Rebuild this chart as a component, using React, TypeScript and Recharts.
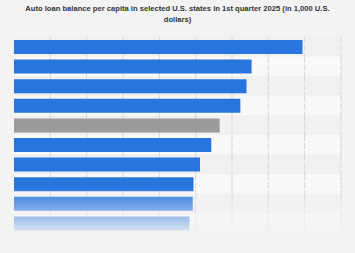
import { Bar, BarChart, Cell, ReferenceArea, XAxis, YAxis } from "recharts";

// Per-capita auto loan balance, Q1 2025, in 1,000 U.S. dollars
const states = [
  "Texas",
  "Louisiana",
  "Oklahoma",
  "Georgia",
  "U.S.",
  "Florida",
  "Arizona",
  "Michigan",
  "Ohio",
  "California",
];
const balances = [7.94, 6.54, 6.4, 6.23, 5.66, 5.43, 5.12, 4.94, 4.92, 4.83];
const xTicks = [0, 1, 2, 3, 4, 5, 6, 7, 8, 9];
const X_MAX = 9;

const BLUE = "#2876dd";
const GREY = "#9a9a9a";
const BG = "#f3f3f3";

const data = states.map((state, i) => ({ state, value: balances[i] }));

// Row band that also carries its piece of the vertical grid,
// so the grid stays underneath the bars.
function BandWithGrid(props: any) {
  const { x, y, width, height, fill } = props;
  return (
    <g>
      <rect x={x} y={y} width={width} height={height} fill={fill} />
      {xTicks.slice(1).map((t) => {
        const gx = x + (t / X_MAX) * width;
        return (
          <line
            key={t}
            x1={gx}
            x2={gx}
            y1={y}
            y2={y + height}
            stroke="#d6d6d6"
            strokeDasharray="6 2"
          />
        );
      })}
    </g>
  );
}

export default function App() {
  return (
    <div style={{ position: "relative", width: 355, height: 253, background: BG, overflow: "hidden" }}>
      <style>{"body{margin:0}"}</style>
      <div
        style={{
          position: "absolute",
          top: 3,
          left: 20,
          right: 20,
          textAlign: "center",
          fontFamily: "'Liberation Sans', Arial, sans-serif",
          fontSize: 7.6,
          fontWeight: 700,
          lineHeight: "11px",
          color: "#333",
        }}
      >
        Auto loan balance per capita in selected U.S. states in 1st quarter 2025 (in 1,000 U.S. dollars)
      </div>
      <BarChart
        width={355}
        height={253}
        data={data}
        layout="vertical"
        margin={{ top: 37, right: 14, bottom: 20, left: 14 }}
        barSize={14}
      >
        <XAxis
          type="number"
          domain={[0, X_MAX]}
          ticks={xTicks}
          tick={false}
          tickLine={false}
          axisLine={false}
          height={0}
        />
        <YAxis
          type="category"
          dataKey="state"
          width={0}
          tick={false}
          tickLine={false}
          axisLine={{ stroke: "#666", strokeWidth: 1 }}
        />
        {states.map((s, i) => (
          <ReferenceArea
            key={s}
            y1={s}
            y2={s}
            fill={i % 2 === 1 ? "#f9f9f9" : "#f1f1f1"}
            fillOpacity={1}
            stroke="none"
            shape={BandWithGrid}
          />
        ))}
        <Bar dataKey="value" isAnimationActive={false}>
          {data.map((d) => (
            <Cell key={d.state} fill={d.state === "U.S." ? GREY : BLUE} />
          ))}
        </Bar>
      </BarChart>
      {/* fade-out over the last rows */}
      <div
        style={{
          position: "absolute",
          left: 0,
          right: 0,
          top: 188,
          height: 46,
          background: `linear-gradient(to bottom, rgba(243,243,243,0) 0%, rgba(243,243,243,0.92) 100%)`,
          pointerEvents: "none",
        }}
      />
    </div>
  );
}
